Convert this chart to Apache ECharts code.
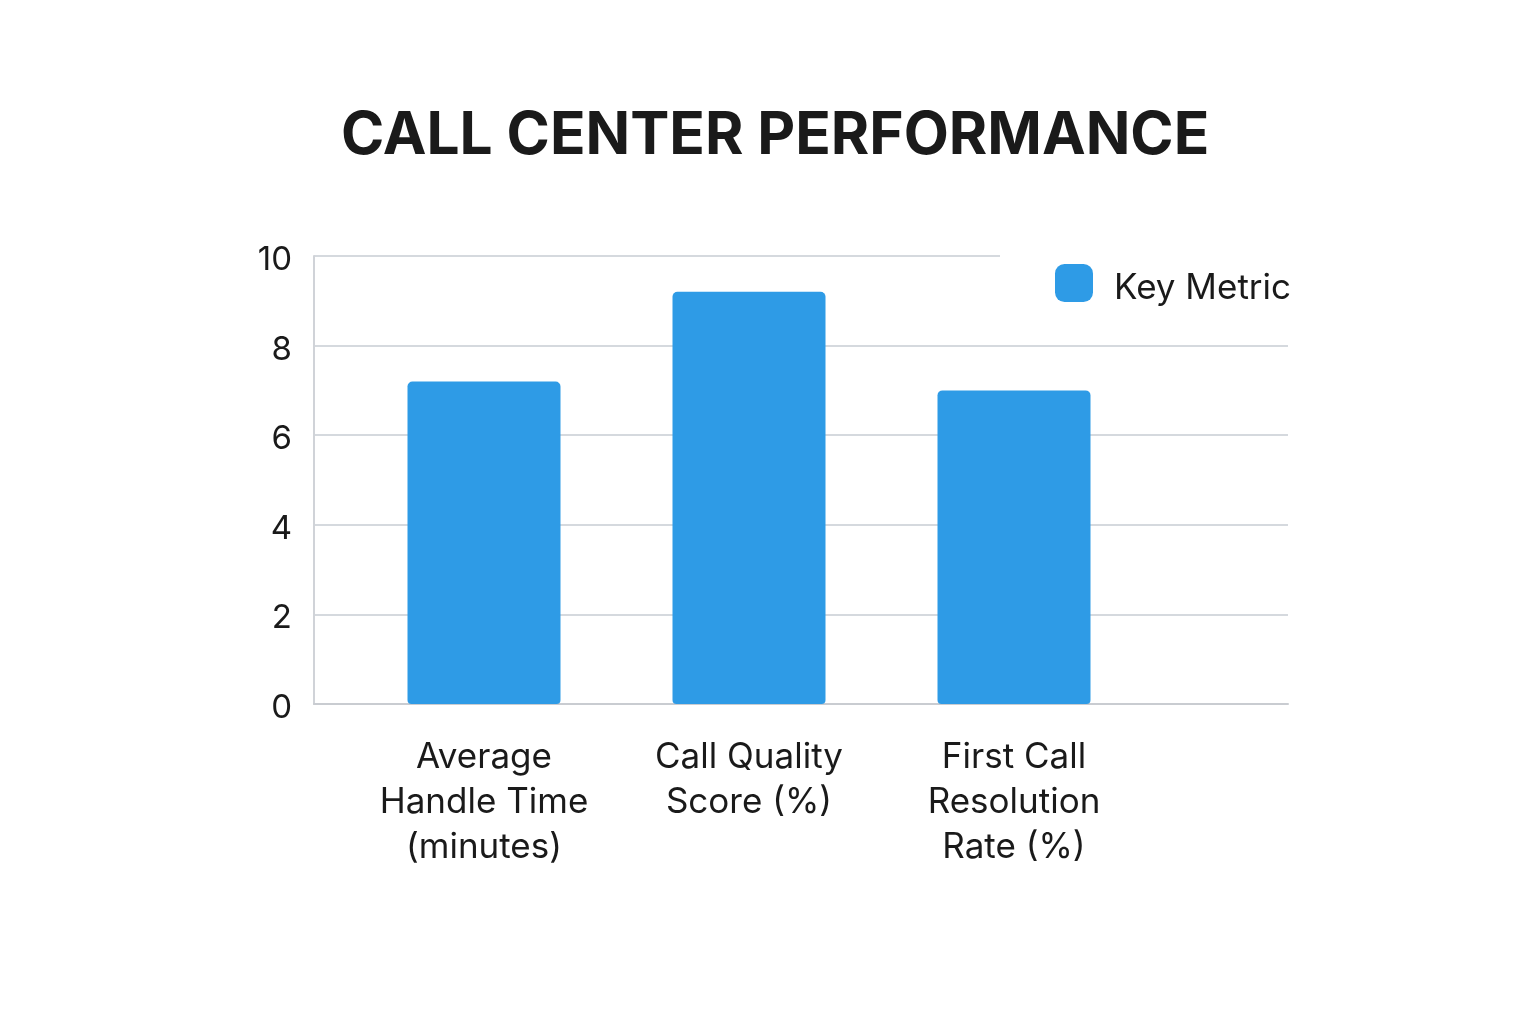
<!DOCTYPE html>
<html>
<head>
<meta charset="utf-8">
<script src="https://cdn.jsdelivr.net/npm/echarts@6/dist/echarts.min.js"></script>
<style>
html,body{margin:0;padding:0;background:#fff;}
#chart{width:1536px;height:1024px;}
</style>
</head>
<body>
<div id="chart"></div>
<script>
const categories = ['Average\nHandle Time\n(minutes)', 'Call Quality\nScore (%)', 'First Call\nResolution\nRate (%)'];
const values = [7.2, 9.2, 7.0];
const yTicks = { min: 0, max: 10, interval: 2 };
const seriesName = 'Key Metric';
const titleText = 'CALL CENTER PERFORMANCE';

const chart = echarts.init(document.getElementById('chart'), null, { renderer: 'canvas' });
const font = 'Inter, "Noto Sans", sans-serif';
chart.setOption({
  backgroundColor: '#fff',
  animation: false,
  title: {
    text: titleText,
    left: 336,
    top: 100,
    textStyle: { fontFamily: font, fontSize: 58.6, fontWeight: 'bold', color: '#1a1a1a', lineHeight: 62 }
  },
  legend: {
    data: [seriesName],
    left: 1000,
    top: 254,
    padding: [10, 10, 10, 55],
    backgroundColor: '#fff',
    itemWidth: 38,
    itemHeight: 38,
    itemGap: 10,
    z: 10,
    formatter: '{t|{name}}',
    textStyle: { fontFamily: font, fontSize: 35, color: '#1a1a1a',
      rich: { t: { fontFamily: font, fontSize: 35, color: '#1a1a1a', padding: [10, 0, 0, 16] } } },
    itemStyle: { borderRadius: 5 }
  },
  grid: [
    { left: 314, top: 256, width: 974, height: 448 },
    { left: 351.5, top: 256, width: 795, height: 448 }
  ],
  xAxis: [
    { gridIndex: 0, type: 'value', min: 0, max: 1, axisLine: { show: true, lineStyle: { color: '#c9ccd1', width: 2 } }, axisTick: { show: false }, axisLabel: { show: false }, splitLine: { show: false } },
    { gridIndex: 1, type: 'category', data: categories, axisLine: { show: false }, axisTick: { show: false },
      axisLabel: { fontFamily: font, fontSize: 35, color: '#1a1a1a', lineHeight: 45, margin: 31, interval: 0 } }
  ],
  yAxis: [
    { gridIndex: 0, type: 'value', min: yTicks.min, max: yTicks.max, interval: yTicks.interval,
      axisLine: { show: true, lineStyle: { color: '#d0d3d8', width: 2 } }, axisTick: { show: false },
      axisLabel: { margin: 22, formatter: '{v|{value}}',
        rich: { v: { fontFamily: font, fontSize: 33, color: '#1a1a1a', padding: [8, 0, 0, 0] } } },
      splitLine: { show: true, lineStyle: { color: '#d5d9de', width: 2 } } },
    { gridIndex: 1, type: 'value', min: yTicks.min, max: yTicks.max, show: false, splitLine: { show: false } }
  ],
  series: [
    { name: seriesName, type: 'bar', xAxisIndex: 1, yAxisIndex: 1, data: values, barWidth: 153,
      itemStyle: { color: '#2e9be6', borderRadius: [5, 5, 4, 4] }, z: 3 }
  ]
});
</script>
</body>
</html>
